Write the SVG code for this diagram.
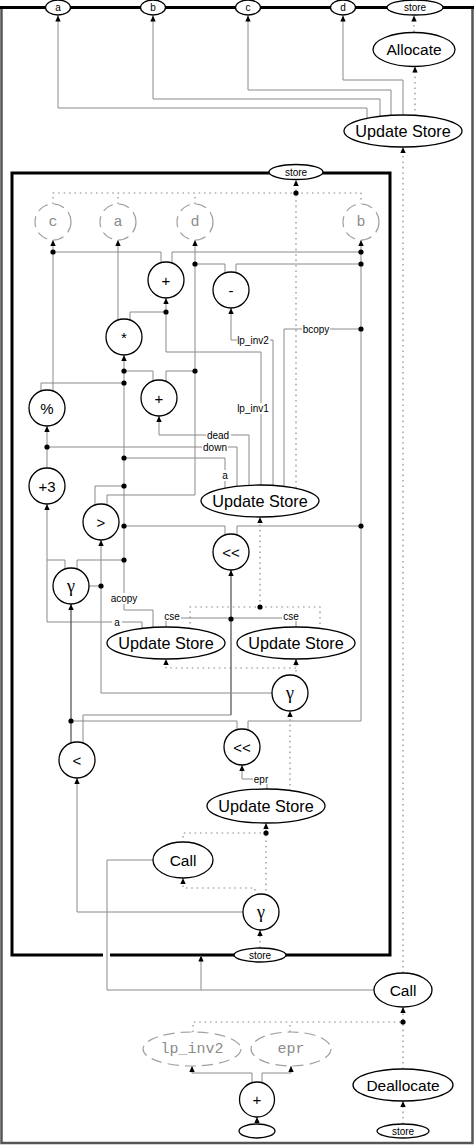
<svg xmlns="http://www.w3.org/2000/svg" width="474" height="1145" viewBox="0 0 474 1145">
<defs>
<marker id="ah" viewBox="0 0 10 10" refX="10" refY="5" markerWidth="6" markerHeight="6" orient="auto" markerUnits="userSpaceOnUse"><path d="M0,0.5 L10,5 L0,9.5 z" fill="#000"/></marker>
<style>
.e{fill:none;stroke:#8a8a8a;stroke-width:1}
.k{fill:none;stroke:#5a5a5a;stroke-width:1.3}
.d{fill:none;stroke:#8a8a8a;stroke-width:1.2;stroke-dasharray:1.6,3.8}
.a{marker-end:url(#ah)}
.n{fill:#fff;stroke:#000;stroke-width:1.3}
.g{fill:#fff;stroke:#a0a0a0;stroke-width:1.2;stroke-dasharray:11,6}
.j{fill:#000}
.bg{fill:#fff}
text{font-family:"Liberation Sans",Arial,sans-serif;text-anchor:middle;dominant-baseline:central;fill:#000}
.big{font-size:15.5px}
.us{font-size:16.2px}
.op{font-size:15px}
.pt{font-size:10px}
.lb{font-size:10px}
.mo{font-family:"Liberation Mono","Courier New",monospace;font-size:15px;fill:#8c8c8c}
.gm{font-family:"Liberation Serif","Times New Roman",serif;font-size:18px}
</style>
</defs>
<rect x="0" y="0" width="474" height="1145" fill="#fff"/>
<g id="outer-frame">
<rect x="1.5" y="7.5" width="471" height="1135.5" fill="none" stroke="#555" stroke-width="2.5"/>
<line x1="0" y1="7.5" x2="474" y2="7.5" stroke="#000" stroke-width="3"/>
</g>
<g id="inner-frame">
<path d="M103,955 H12 V173 H390 V955 H110" fill="none" stroke="#000" stroke-width="3"/>
</g>
<g id="connectors">
<path class="e a" d="M367,121 V108 H58 V15.5"/>
<path class="e a" d="M380,119 V99 H153 V15.5"/>
<path class="e a" d="M391,118 V90 H248 V15.5"/>
<path class="e a" d="M403,117 V80 H343 V15.5"/>
<path class="d a" d="M415,116 V66.5"/>
<path class="d a" d="M414,32 V15.5"/>
<path class="d a" d="M403,973 V147"/>
<path class="e" d="M374,990 H107 V860 H153"/>
<path class="e a" d="M201,990 V955.5"/>
<path class="d a" d="M403,1069 V1007"/>
<path class="d" d="M193,1032 V1022 H403"/>
<path class="d" d="M290,1032 V1022"/>
<path class="d a" d="M403,1124 V1101"/>
<path class="e a" d="M252,1083 V1073 H192 V1066"/>
<path class="e a" d="M262,1083 V1073 H291 V1066"/>
<path class="e a" d="M257,1124 V1117"/>
<path class="d a" d="M296,488 V180"/>
<path class="d" d="M53,204 V193 H361 V204"/>
<path class="d" d="M118,204 V193"/>
<path class="d" d="M195,204 V193"/>
<path class="d a" d="M260,607 V517"/>
<path class="d" d="M190,629 V607 H320 V629"/>
<path class="d a" d="M296,677 V659"/>
<path class="d a" d="M296,668 H166 V659"/>
<path class="d a" d="M290,791 V711"/>
<path class="d a" d="M266,896 V823"/>
<path class="d" d="M183,843 V833 H266"/>
<path class="d a" d="M255,896 V888 H183 V878"/>
<path class="d a" d="M260,948 V930"/>
<path class="e a" d="M53,392 V240"/>
<path class="e" d="M161,264 V252 H53"/>
<path class="e" d="M172,264 V252 H361"/>
<path class="e a" d="M118,321 V240"/>
<path class="e" d="M130,321 V312 H166"/>
<path class="e a" d="M166,352 V298"/>
<path class="e" d="M166,352 H261 V487"/>
<path class="e a" d="M107,506 V495 H195 V240"/>
<path class="e" d="M225,274 V264 H195"/>
<path class="e" d="M236,274 V264 H361"/>
<path class="e a" d="M273,487 V340 H231 V308"/>
<path class="e" d="M284,488 V329 H361"/>
<path class="e a" d="M248,731 V721 H361 V240"/>
<path class="e" d="M153,382 V371 H124"/>
<path class="e" d="M166,382 V371 H195"/>
<path class="e" d="M41,392 V383 H124"/>
<path class="e a" d="M153,629 V610 H124 V355"/>
<path class="e a" d="M249,487 V435 H159 V416"/>
<path class="e" d="M237,488 V447 H47"/>
<path class="e a" d="M47,469 V426"/>
<path class="e" d="M225,489 V458 H124"/>
<path class="e" d="M95,506 V486 H124"/>
<path class="e" d="M225,536 V526 H124"/>
<path class="e" d="M237,536 V526 H361"/>
<path class="e" d="M65,570 V560 H47"/>
<path class="e" d="M77,570 V560 H124"/>
<path class="e a" d="M142,629 V622 H47 V504"/>
<path class="k a" d="M71,744 V604"/>
<path class="e" d="M71,721 H237 V731"/>
<path class="e" d="M83,744 V715 H231"/>
<path class="k a" d="M231,715 V570"/>
<path class="e" d="M166,628 V618 H231"/>
<path class="e" d="M296,628 V618 H231"/>
<path class="e a" d="M272,693 H101 V540"/>
<path class="e" d="M89,586 H101"/>
<path class="e a" d="M267,790 V779 H242 V765"/>
<path class="e a" d="M243,912 H77 V778"/>
<g class="j">
<circle cx="403" cy="1022" r="2.6"/>
<circle cx="296" cy="193" r="2.6"/>
<circle cx="53" cy="252" r="2.6"/>
<circle cx="361" cy="252" r="2.6"/>
<circle cx="195" cy="264" r="2.6"/>
<circle cx="361" cy="264" r="2.6"/>
<circle cx="166" cy="312" r="2.6"/>
<circle cx="361" cy="329" r="2.6"/>
<circle cx="124" cy="371" r="2.6"/>
<circle cx="195" cy="371" r="2.6"/>
<circle cx="124" cy="383" r="2.6"/>
<circle cx="47" cy="447" r="2.6"/>
<circle cx="124" cy="458" r="2.6"/>
<circle cx="124" cy="486" r="2.6"/>
<circle cx="124" cy="526" r="2.6"/>
<circle cx="361" cy="526" r="2.6"/>
<circle cx="124" cy="560" r="2.6"/>
<circle cx="101" cy="586" r="2.6"/>
<circle cx="260" cy="607" r="2.6"/>
<circle cx="231" cy="619" r="2.6"/>
<circle cx="71" cy="721" r="2.6"/>
<circle cx="266" cy="833" r="2.6"/>
</g>
<rect class="bg" x="237" y="403" width="33" height="11"/><text class="lb" x="253" y="408">lp_inv1</text>
<rect class="bg" x="237" y="335" width="33" height="11"/><text class="lb" x="253" y="340">lp_inv2</text>
<rect class="bg" x="302" y="324" width="28" height="11"/><text class="lb" x="316" y="329">bcopy</text>
<rect class="bg" x="206" y="430" width="25" height="11"/><text class="lb" x="218" y="435">dead</text>
<rect class="bg" x="202" y="442" width="26" height="11"/><text class="lb" x="215" y="447">down</text>
<rect class="bg" x="221" y="470" width="8" height="11"/><text class="lb" x="225" y="475">a</text>
<rect class="bg" x="110" y="593" width="28" height="11"/><text class="lb" x="124" y="598">acopy</text>
<rect class="bg" x="112" y="617" width="10" height="11"/><text class="lb" x="117" y="622">a</text>
<rect class="bg" x="163" y="611" width="18" height="10"/><text class="lb" x="172" y="616">cse</text>
<rect class="bg" x="282" y="611" width="18" height="10"/><text class="lb" x="291" y="616">cse</text>
<rect class="bg" x="253" y="774" width="16" height="10"/><text class="lb" x="261" y="779">epr</text>
</g>
<g id="port-a"><ellipse class="n" cx="58" cy="7.5" rx="12.5" ry="7.5"/><text class="pt" x="58" y="7.5">a</text></g>
<g id="port-b"><ellipse class="n" cx="153" cy="7.5" rx="12.5" ry="7.5"/><text class="pt" x="153" y="7.5">b</text></g>
<g id="port-c"><ellipse class="n" cx="248" cy="7.5" rx="12.5" ry="7.5"/><text class="pt" x="248" y="7.5">c</text></g>
<g id="port-d"><ellipse class="n" cx="343" cy="7.5" rx="12.5" ry="7.5"/><text class="pt" x="343" y="7.5">d</text></g>
<g id="port-store-top"><ellipse class="n" cx="415" cy="7.5" rx="28" ry="7.5"/><text class="pt" x="415" y="7.5">store</text></g>
<g id="allocate"><ellipse class="n" cx="414" cy="49.5" rx="41" ry="17"/><text class="big" x="414" y="49.5">Allocate</text></g>
<g id="update-store-outer"><ellipse class="n" cx="403" cy="131" rx="59" ry="16"/><text class="us" x="403" y="131">Update Store</text></g>
<g id="call-outer"><ellipse class="n" cx="403" cy="990" rx="29" ry="17"/><text class="big" x="403" y="990">Call</text></g>
<g id="deallocate"><ellipse class="n" cx="403" cy="1085" rx="50" ry="16"/><text class="big" x="403" y="1085">Deallocate</text></g>
<g id="port-store-bottom"><ellipse class="n" cx="403" cy="1131" rx="26" ry="7"/><text class="pt" x="403" y="1131">store</text></g>
<g id="lp_inv2"><ellipse class="g" cx="192" cy="1049" rx="49" ry="17"/><text class="mo" x="192" y="1049">lp_inv2</text></g>
<g id="epr"><ellipse class="g" cx="291" cy="1049" rx="40" ry="17"/><text class="mo" x="291" y="1049">epr</text></g>
<g id="plus-outer"><circle class="n" cx="257" cy="1099.5" r="17.5"/><text class="op" x="257" y="1099.5">+</text></g>
<g id="empty-input"><ellipse class="n" cx="257" cy="1131" rx="18" ry="7"/></g>
<g id="store-in-top"><ellipse class="n" cx="296" cy="172" rx="27" ry="7.5"/><text class="pt" x="296" y="172">store</text></g>
<g id="store-in-bottom"><ellipse class="n" cx="260" cy="955" rx="26" ry="7"/><text class="pt" x="260" y="955">store</text></g>
<g id="res-c"><circle class="g" cx="53" cy="222" r="18"/><text class="mo" x="53" y="222">c</text></g>
<g id="res-a"><circle class="g" cx="118" cy="222" r="18"/><text class="mo" x="118" y="222">a</text></g>
<g id="res-d"><circle class="g" cx="195" cy="222" r="18"/><text class="mo" x="195" y="222">d</text></g>
<g id="res-b"><circle class="g" cx="361" cy="222" r="18"/><text class="mo" x="361" y="222">b</text></g>
<g id="plus1"><circle class="n" cx="166" cy="280" r="18"/><text class="op" x="166" y="280">+</text></g>
<g id="minus"><circle class="n" cx="231" cy="290" r="18"/><text class="op" x="231" y="290">-</text></g>
<g id="mul"><circle class="n" cx="124" cy="337" r="18"/><text class="op" x="124" y="337">*</text></g>
<g id="plus2"><circle class="n" cx="159" cy="398" r="18"/><text class="op" x="159" y="398">+</text></g>
<g id="mod"><circle class="n" cx="47" cy="408" r="18"/><text class="op" x="47" y="408">%</text></g>
<g id="plus3"><circle class="n" cx="47" cy="486" r="18"/><text class="op" x="47" y="486">+3</text></g>
<g id="gt"><circle class="n" cx="101" cy="522" r="18"/><text class="op" x="101" y="522">&gt;</text></g>
<g id="update-store-1"><ellipse class="n" cx="260" cy="501" rx="59" ry="16"/><text class="us" x="260" y="501">Update Store</text></g>
<g id="shl1"><circle class="n" cx="231" cy="552" r="18"/><text class="op" x="231" y="552">&lt;&lt;</text></g>
<g id="gamma-left"><circle class="n" cx="71" cy="586" r="18"/><text class="gm" x="71" y="586">γ</text></g>
<g id="update-store-2"><ellipse class="n" cx="166" cy="643" rx="59" ry="16"/><text class="us" x="166" y="643">Update Store</text></g>
<g id="update-store-3"><ellipse class="n" cx="296" cy="643" rx="59" ry="16"/><text class="us" x="296" y="643">Update Store</text></g>
<g id="gamma-mid"><circle class="n" cx="290" cy="693" r="18"/><text class="gm" x="290" y="693">γ</text></g>
<g id="lt"><circle class="n" cx="77" cy="760" r="18"/><text class="op" x="77" y="760">&lt;</text></g>
<g id="shl2"><circle class="n" cx="242" cy="747" r="18"/><text class="op" x="242" y="747">&lt;&lt;</text></g>
<g id="update-store-4"><ellipse class="n" cx="266" cy="806" rx="59" ry="17"/><text class="us" x="266" y="806">Update Store</text></g>
<g id="call-inner"><ellipse class="n" cx="183" cy="860" rx="30" ry="18"/><text class="big" x="183" y="860">Call</text></g>
<g id="gamma-bottom"><circle class="n" cx="261" cy="912" r="18"/><text class="gm" x="261" y="912">γ</text></g>
</svg>
